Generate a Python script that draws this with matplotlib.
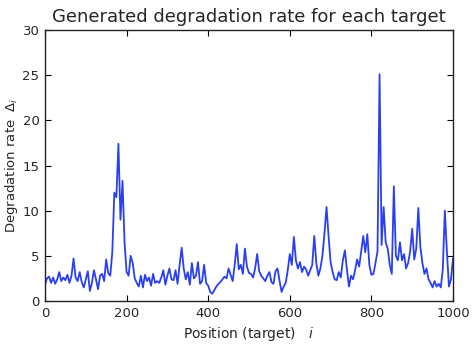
import numpy as np
import matplotlib
matplotlib.use("Agg")
import matplotlib.pyplot as plt

# Target positions, sampled every 5 along the sequence
positions = np.arange(0, 1001, 5)

# Degradation rate per target
rates = [
    1.8, 2.5, 2.7, 2.0, 2.6, 1.9, 2.4, 3.2, 2.2, 2.6, 2.3, 2.9, 2.0, 2.8, 4.7, 2.6, 2.2, 3.2, 2.1, 1.5,
    2.4, 3.3, 1.1, 2.0, 3.4, 2.4, 1.3, 2.8, 3.0, 2.2, 4.6, 3.1, 2.8, 5.4, 12.0, 11.5, 17.4, 9.0, 13.3, 6.5,
    3.2, 2.8, 5.0, 4.2, 2.5, 2.0, 1.6, 2.8, 1.5, 2.9, 2.2, 2.6, 1.7, 3.0, 2.0, 2.2, 2.0, 2.6, 3.4, 1.8,
    2.8, 3.6, 2.4, 2.3, 3.4, 1.9, 4.0, 5.9, 3.6, 2.4, 3.2, 1.8, 4.2, 2.5, 2.8, 4.3, 1.9, 2.2, 4.0, 2.0,
    1.7, 1.0, 0.8, 1.2, 1.6, 1.9, 2.1, 2.4, 2.7, 2.5, 3.6, 2.9, 2.2, 4.0, 6.3, 3.5, 4.0, 3.0, 5.8, 3.8,
    3.1, 3.0, 2.6, 3.6, 5.2, 3.3, 2.8, 2.5, 2.2, 2.8, 3.2, 2.1, 1.9, 3.3, 3.6, 2.2, 1.0, 1.6, 2.0, 3.4,
    5.2, 4.0, 7.1, 4.5, 3.6, 4.3, 3.2, 3.8, 3.5, 2.8, 3.4, 4.0, 7.2, 4.2, 2.8, 3.6, 5.0, 7.5, 10.4, 7.2,
    4.3, 3.2, 2.4, 2.3, 3.2, 2.6, 4.5, 5.6, 3.5, 1.6, 2.8, 2.4, 3.4, 4.6, 3.8, 5.5, 7.2, 5.4, 7.4, 4.0,
    2.9, 3.0, 4.2, 5.5, 25.1, 6.2, 10.4, 6.5, 5.8, 4.0, 3.0, 12.7, 5.0, 4.5, 6.5, 4.5, 5.2, 3.6, 4.2, 5.5,
    8.0, 4.6, 5.8, 10.3, 6.0, 4.2, 3.0, 3.6, 2.4, 2.0, 1.5, 2.2, 1.6, 1.9, 1.5, 3.5, 10.0, 5.5, 1.6, 2.4,
    4.7,
]

x_ticks = [0, 200, 400, 600, 800, 1000]
y_ticks = [0, 5, 10, 15, 20, 25, 30]

text_color = "#262626"

fig = plt.figure(figsize=(4.74, 3.47), dpi=100)
ax = fig.add_axes([0.0949, 0.1326, 0.8608, 0.7809])

ax.plot(positions, rates, color="#2a3ff0", linewidth=1.3)

ax.set_xlim(0, 1000)
ax.set_ylim(0, 30)
ax.set_xticks(x_ticks)
ax.set_yticks(y_ticks)
ax.tick_params(direction="in", top=True, right=True, length=4, width=0.8,
               labelsize=9.5, labelcolor=text_color, pad=4)
for sp in ax.spines.values():
    sp.set_linewidth(1.0)
    sp.set_color("#222222")

ax.set_title("Generated degradation rate for each target", fontsize=13,
             color=text_color, pad=6)
ax.set_xlabel("Position (target)   $i$", fontsize=10, color=text_color, labelpad=4)
ax.set_ylabel("Degradation rate  $\\Delta_i$", fontsize=9.5, color=text_color)
ax.yaxis.set_label_coords(-0.062, 0.5)

fig.savefig("out.png", dpi=100)
